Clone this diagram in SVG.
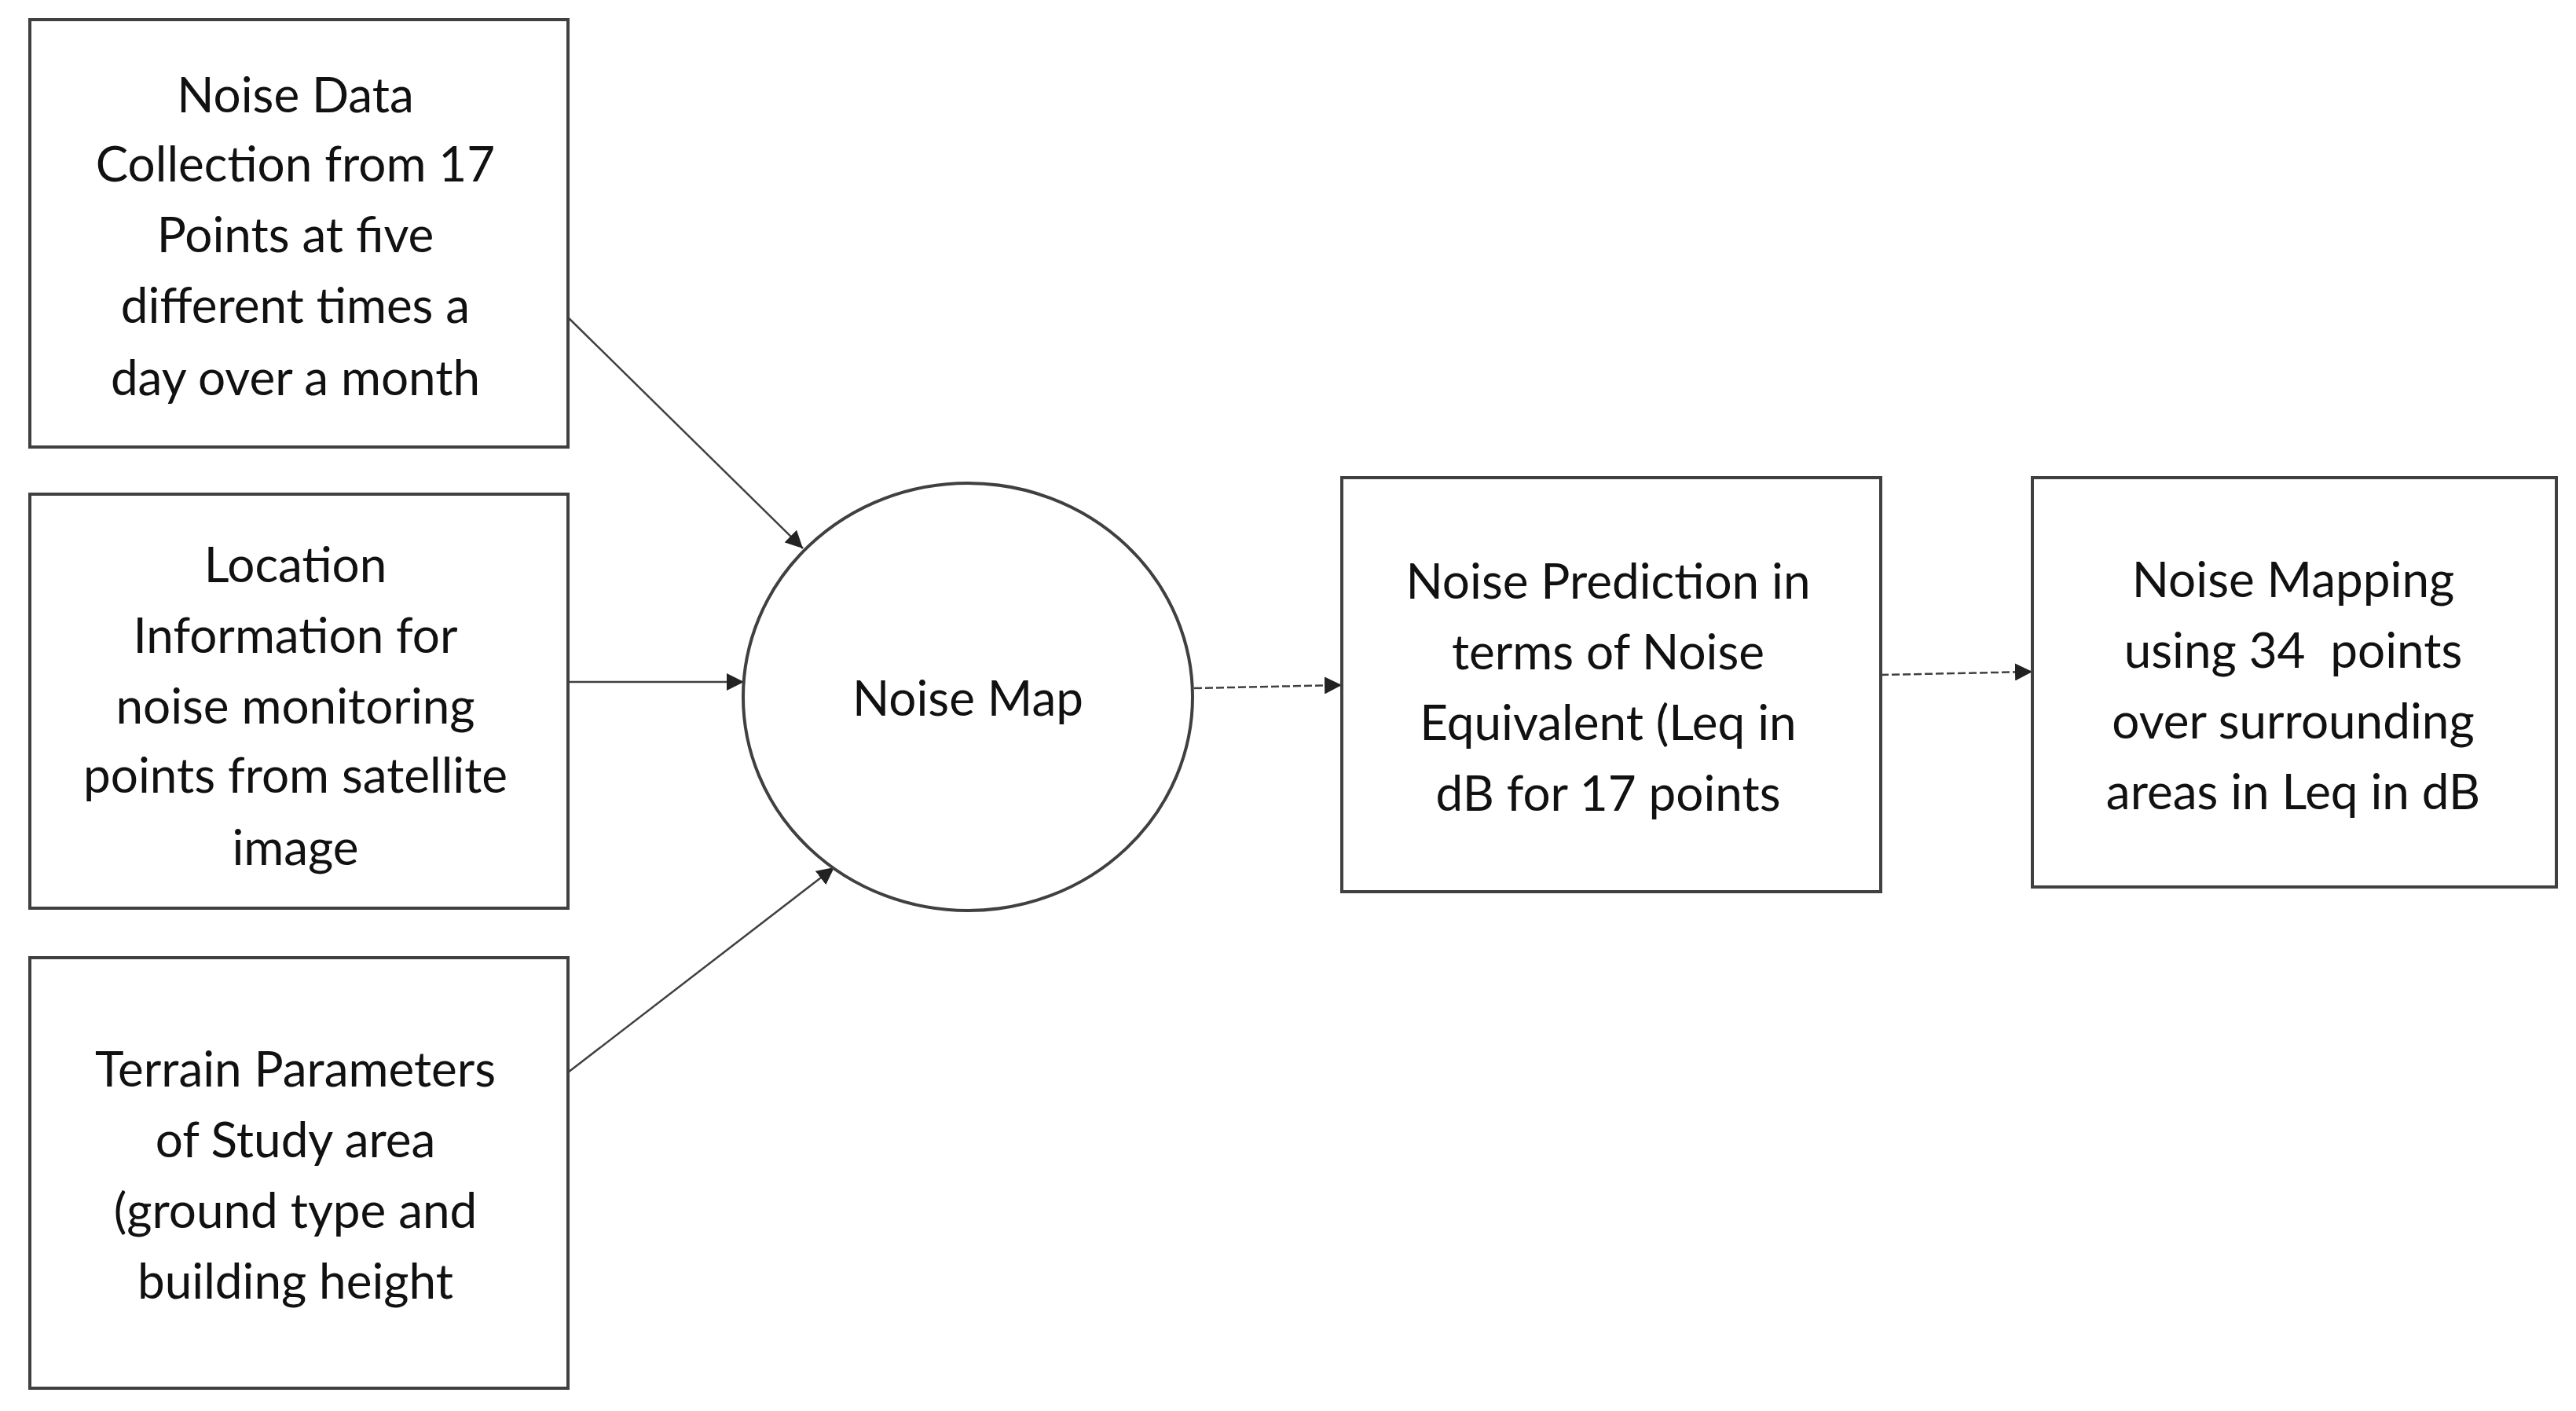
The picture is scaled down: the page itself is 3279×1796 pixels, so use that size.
<svg xmlns="http://www.w3.org/2000/svg" width="3279" height="1796" viewBox="0 0 3279 1796">
<style>
.b{fill:#fff;stroke:#404040;stroke-width:4}
.t{font-family:Lato,"Open Sans",sans-serif;font-size:62px;fill:#111;text-anchor:middle;dominant-baseline:central}
.c{stroke:#404040;stroke-width:2.5;fill:none;marker-end:url(#a)}
</style>
<defs><marker id="a" viewBox="0 0 10 10" refX="10" refY="5" markerWidth="8" markerHeight="8" markerUnits="userSpaceOnUse" orient="auto"><path d="M0,0L10,5L0,10z" fill="#222"/></marker>
<marker id="a2" viewBox="0 0 10 10" refX="10" refY="5" markerWidth="22" markerHeight="22" markerUnits="userSpaceOnUse" orient="auto"><path d="M0,0L10,5L0,10z" fill="#222"/></marker></defs>
<rect width="3279" height="1796" fill="#fff"/>
<g id="connectors">
<line class="c" x1="723" y1="404" x2="1022" y2="698" style="marker-end:url(#a2)"/>
<line class="c" x1="723" y1="868" x2="947" y2="868" style="marker-end:url(#a2)"/>
<line class="c" x1="723" y1="1365" x2="1062" y2="1104" style="marker-end:url(#a2)"/>
<line class="c" x1="1520" y1="876" x2="1708" y2="872" stroke-dasharray="10 4" style="marker-end:url(#a2)"/>
<line class="c" x1="2394" y1="859" x2="2587" y2="855" stroke-dasharray="10 4" style="marker-end:url(#a2)"/>
</g>
<g id="n1"><rect class="b" x="38" y="25" width="685" height="544"/>
<text class="t" x="376" y="119">Noise Data</text><text class="t" x="376" y="207">Collection from 17</text><text class="t" x="376" y="297">Points at five</text><text class="t" x="376" y="387">different times a</text><text class="t" x="376" y="479">day over a month</text></g>
<g id="n2"><rect class="b" x="38" y="629" width="685" height="527"/>
<text class="t" x="376" y="717">Location</text><text class="t" x="376" y="807">Information for</text><text class="t" x="376" y="897">noise monitoring</text><text class="t" x="376" y="985">points from satellite</text><text class="t" x="376" y="1077">image</text></g>
<g id="n3"><rect class="b" x="38" y="1219" width="685" height="548"/>
<text class="t" x="376" y="1359">Terrain Parameters</text><text class="t" x="376" y="1449">of Study area</text><text class="t" x="376" y="1539">(ground type and</text><text class="t" x="376" y="1629">building height</text></g>
<g id="n4"><ellipse class="b" cx="1232" cy="887" rx="286" ry="272"/><text class="t" x="1232" y="887">Noise Map</text></g>
<g id="n5"><rect class="b" x="1708" y="608" width="686" height="527"/>
<text class="t" x="2047" y="738">Noise Prediction in</text><text class="t" x="2047" y="828">terms of Noise</text><text class="t" x="2047" y="918">Equivalent (Leq in</text><text class="t" x="2047" y="1008">dB for 17 points</text></g>
<g id="n6"><rect class="b" x="2587" y="608" width="667" height="521"/>
<text class="t" x="2919" y="736">Noise Mapping</text><text class="t" x="2919" y="826" xml:space="preserve">using 34  points</text><text class="t" x="2919" y="916">over surrounding</text><text class="t" x="2919" y="1006">areas in Leq in dB</text></g>
</svg>
